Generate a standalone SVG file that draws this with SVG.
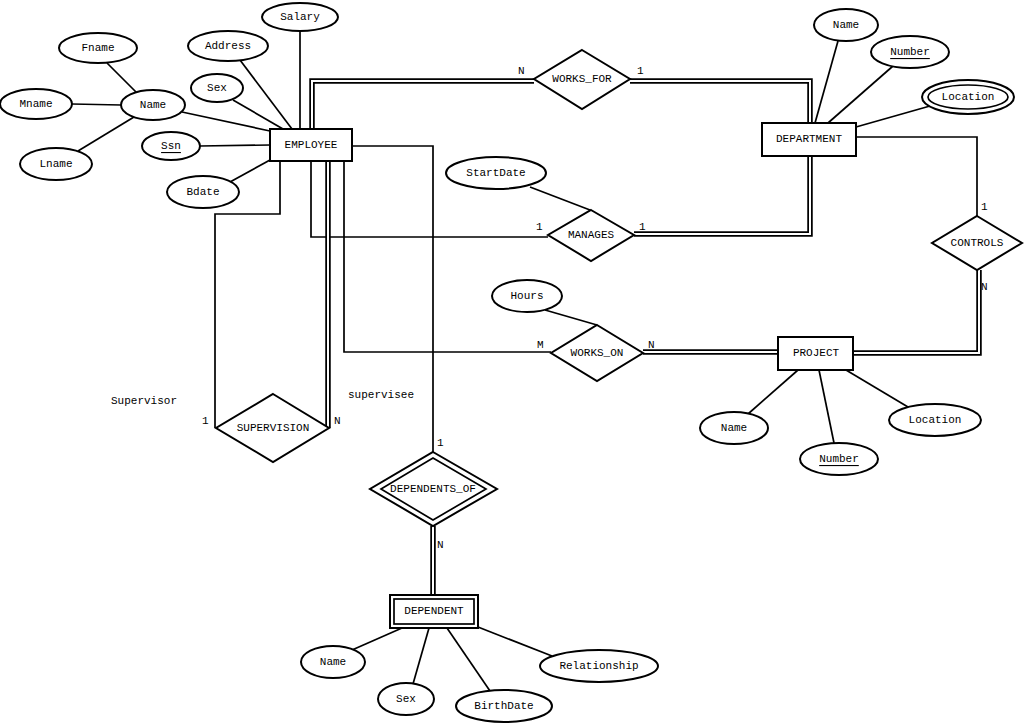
<svg xmlns="http://www.w3.org/2000/svg" width="1024" height="723" viewBox="0 0 1024 723" font-family="'Liberation Mono', 'Courier New', 'DejaVu Sans Mono', monospace">
<style>
text{font-family:'Liberation Mono','Courier New','DejaVu Sans Mono',monospace;font-size:11px;fill:#000}
.c{text-anchor:middle;dominant-baseline:central}
.s{fill:#fff;stroke:#000;stroke-width:2}
.l{fill:none;stroke:#000;stroke-width:1.7}
.d1{fill:none;stroke:#000;stroke-width:5.5}
.d2{fill:none;stroke:#fff;stroke-width:2}
.u{text-decoration:underline}
</style>
<rect width="1024" height="723" fill="#fff"/>
<g id="connectors">
<line class="l" x1="300" y1="31" x2="300" y2="129"/>
<line class="l" x1="240" y1="60" x2="292" y2="129"/>
<line class="l" x1="233" y1="100" x2="283" y2="129"/>
<line class="l" x1="182" y1="112" x2="270" y2="131"/>
<line class="l" x1="107" y1="63" x2="136" y2="92"/>
<line class="l" x1="72" y1="104" x2="121" y2="105"/>
<line class="l" x1="78" y1="151" x2="134" y2="117"/>
<line class="l" x1="200" y1="146" x2="270" y2="145"/>
<line class="l" x1="230" y1="182" x2="270" y2="160"/>
<path class="d1" d="M312 129 V81 H534"/><path class="d2" d="M312 129 V81 H534"/>
<path class="d1" d="M630 81 H810 V123"/><path class="d2" d="M630 81 H810 V123"/>
<path class="d1" d="M810 156 V234 H634"/><path class="d2" d="M810 156 V234 H634"/>
<path class="l" d="M311 161 V237 H548"/>
<line class="l" x1="530" y1="187" x2="590" y2="210"/>
<path class="l" d="M280 161 V214 H215 V428"/>
<path class="d1" d="M328 161 V428"/><path class="d2" d="M328 161 V428"/>
<path class="l" d="M352 146 H433 V452"/>
<path class="d1" d="M433 526 V596"/><path class="d2" d="M433 526 V596"/>
<path class="l" d="M344 161 V352 H551"/>
<line class="l" x1="545" y1="310" x2="597" y2="325"/>
<path class="d1" d="M643 352 H778"/><path class="d2" d="M643 352 H778"/>
<path class="d1" d="M853 353 H979 V270"/><path class="d2" d="M853 353 H979 V270"/>
<path class="l" d="M856 137 H977 V216"/>
<line class="l" x1="798" y1="370" x2="748" y2="414"/>
<line class="l" x1="819" y1="370" x2="834" y2="443"/>
<line class="l" x1="846" y1="370" x2="908" y2="407"/>
<line class="l" x1="838" y1="41" x2="815" y2="123"/>
<line class="l" x1="893" y1="66" x2="828" y2="123"/>
<line class="l" x1="930" y1="106" x2="856" y2="127"/>
<line class="l" x1="402" y1="628" x2="352" y2="650"/>
<line class="l" x1="429" y1="628" x2="413" y2="684"/>
<line class="l" x1="447" y1="628" x2="490" y2="691"/>
<line class="l" x1="478" y1="627" x2="552" y2="656"/>
</g>
<g id="labels">
<text x="518" y="74">N</text><text x="637" y="74">1</text>
<text x="536" y="230">1</text><text x="639" y="230">1</text>
<text x="202" y="424">1</text><text x="334" y="424">N</text>
<text x="437" y="446">1</text><text x="437" y="548">N</text>
<text x="537" y="348">M</text><text x="648" y="348">N</text>
<text x="981" y="210">1</text><text x="981" y="290">N</text>
<text x="111" y="404">Supervisor</text>
<text x="348" y="398">supervisee</text>
</g>
<g id="EMPLOYEE"><rect class="s" x="270" y="129" width="82" height="32"/><text class="c" x="311" y="145">EMPLOYEE</text></g>
<g id="DEPARTMENT"><rect class="s" x="762" y="123" width="94" height="33"/><text class="c" x="809" y="139">DEPARTMENT</text></g>
<g id="PROJECT"><rect class="s" x="778" y="337" width="75" height="33"/><text class="c" x="816" y="353">PROJECT</text></g>
<g id="DEPENDENT"><rect class="s" x="390" y="595" width="88" height="33"/><rect class="l" x="394" y="599" width="80" height="25"/><text class="c" x="434" y="611">DEPENDENT</text></g>
<g id="WORKS_FOR"><polygon class="s" points="582,50 630,79 582,109 534,79"/><text class="c" x="582" y="79">WORKS_FOR</text></g>
<g id="MANAGES"><polygon class="s" points="591,210 634,235 591,261 548,235"/><text class="c" x="591" y="235">MANAGES</text></g>
<g id="WORKS_ON"><polygon class="s" points="597,325 643,353 597,381 551,353"/><text class="c" x="597" y="353">WORKS_ON</text></g>
<g id="CONTROLS"><polygon class="s" points="977,216 1022,243 977,270 932,243"/><text class="c" x="977" y="243">CONTROLS</text></g>
<g id="SUPERVISION"><polygon class="s" points="273,394 329,428 273,462 216,428"/><text class="c" x="273" y="428">SUPERVISION</text></g>
<g id="DEPENDENTS_OF"><polygon class="s" points="433,452 497,489 433,526 370,489"/><polygon class="l" points="433,458 486,489 433,520 381,489"/><text class="c" x="433" y="489">DEPENDENTS_OF</text></g>
<g id="attributes">
<g id="Salary"><ellipse class="s" cx="300" cy="17" rx="38" ry="14"/><text class="c" x="300" y="17">Salary</text></g>
<g id="Address"><ellipse class="s" cx="228" cy="46" rx="40" ry="15"/><text class="c" x="228" y="46">Address</text></g>
<g id="Sex"><ellipse class="s" cx="217" cy="88" rx="26" ry="14"/><text class="c" x="217" y="88">Sex</text></g>
<g id="Name"><ellipse class="s" cx="153" cy="105" rx="32" ry="15"/><text class="c" x="153" y="105">Name</text></g>
<g id="Fname"><ellipse class="s" cx="98" cy="48" rx="39" ry="15"/><text class="c" x="98" y="48">Fname</text></g>
<g id="Mname"><ellipse class="s" cx="36" cy="104" rx="36" ry="15"/><text class="c" x="36" y="104">Mname</text></g>
<g id="Lname"><ellipse class="s" cx="56" cy="164" rx="36" ry="16"/><text class="c" x="56" y="164">Lname</text></g>
<g id="Ssn"><ellipse class="s" cx="171" cy="146" rx="29" ry="14"/><text class="c u" x="171" y="146">Ssn</text></g>
<g id="Bdate"><ellipse class="s" cx="203" cy="192" rx="36" ry="16"/><text class="c" x="203" y="192">Bdate</text></g>
<g id="StartDate"><ellipse class="s" cx="496" cy="173" rx="50" ry="16"/><text class="c" x="496" y="173">StartDate</text></g>
<g id="Hours"><ellipse class="s" cx="527" cy="296" rx="35" ry="16"/><text class="c" x="527" y="296">Hours</text></g>
<g id="DeptName"><ellipse class="s" cx="846" cy="25" rx="32" ry="16"/><text class="c" x="846" y="25">Name</text></g>
<g id="DeptNumber"><ellipse class="s" cx="910" cy="52" rx="39" ry="16"/><text class="c u" x="910" y="52">Number</text></g>
<g id="DeptLocation"><ellipse class="s" cx="968" cy="97" rx="46" ry="17"/><ellipse class="l" cx="968" cy="97" rx="40" ry="12"/><text class="c" x="968" y="97">Location</text></g>
<g id="ProjName"><ellipse class="s" cx="734" cy="428" rx="34" ry="16"/><text class="c" x="734" y="428">Name</text></g>
<g id="ProjNumber"><ellipse class="s" cx="839" cy="459" rx="39" ry="16"/><text class="c u" x="839" y="459">Number</text></g>
<g id="ProjLocation"><ellipse class="s" cx="935" cy="420" rx="46" ry="16"/><text class="c" x="935" y="420">Location</text></g>
<g id="DepName"><ellipse class="s" cx="333" cy="662" rx="32" ry="16"/><text class="c" x="333" y="662">Name</text></g>
<g id="DepSex"><ellipse class="s" cx="406" cy="699" rx="28" ry="16"/><text class="c" x="406" y="699">Sex</text></g>
<g id="BirthDate"><ellipse class="s" cx="504" cy="706" rx="48" ry="16"/><text class="c" x="504" y="706">BirthDate</text></g>
<g id="Relationship"><ellipse class="s" cx="599" cy="666" rx="59" ry="16"/><text class="c" x="599" y="666">Relationship</text></g>
</g>
</svg>
